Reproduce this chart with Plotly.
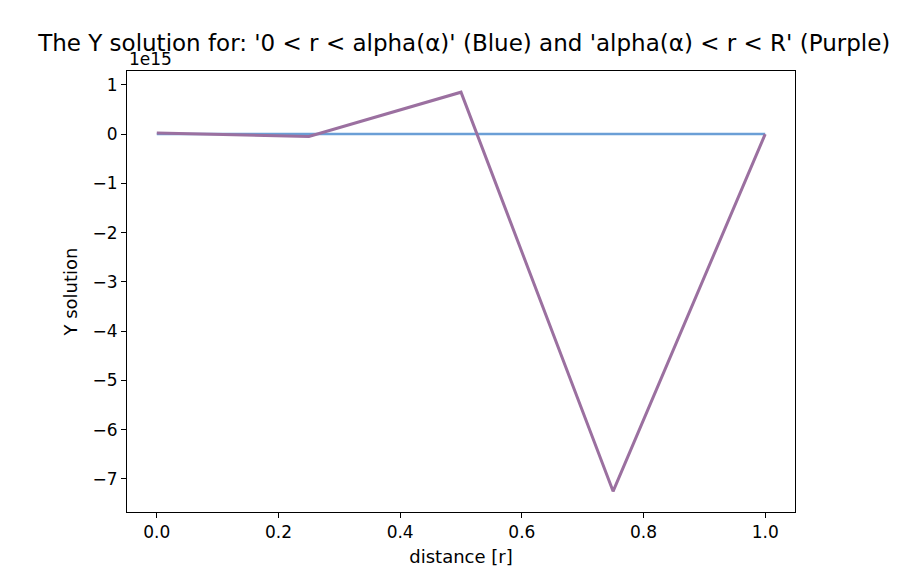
import plotly.graph_objects as go

r = [0.0, 0.25, 0.5, 0.75, 1.0]
y_blue = [0.0, 0.0, 0.0, 0.0, 0.0]
y_purple = [0.02e15, -0.05e15, 0.85e15, -7.25e15, 0.0]
ytick_vals = [1, 0, -1, -2, -3, -4, -5, -6, -7]
xtick_vals = [0.0, 0.2, 0.4, 0.6, 0.8, 1.0]

F = "DejaVu Sans"
fig = go.Figure()
fig.add_trace(go.Scatter(x=r, y=y_blue, mode="lines", line=dict(color="#6b9fd6", width=2.5)))
fig.add_trace(go.Scatter(x=r, y=y_purple, mode="lines", line=dict(color="#9b70a0", width=3)))

ax = dict(showline=True, linecolor="black", linewidth=1, mirror=True, ticks="outside",
          ticklen=5, tickcolor="black", showgrid=False, zeroline=False,
          tickfont=dict(family=F, size=17, color="black"))
fig.update_layout(
    width=918, height=588, plot_bgcolor="white", paper_bgcolor="white", showlegend=False,
    margin=dict(l=119, r=131, t=63, b=84),
    title=dict(text="The Y solution for: '0 < r < alpha(α)' (Blue) and 'alpha(α) < r < R' (Purple)",
               x=0.497, xanchor="center", y=0.955, font=dict(family=F, size=23, color="black")),
    xaxis=dict(ax, range=[-0.049, 1.049], tickvals=xtick_vals,
               ticktext=[f"{v:.1f}" for v in xtick_vals],
               title=dict(text="distance [r]", font=dict(family=F, size=18, color="black"), standoff=8)),
    yaxis=dict(ax, range=[-7.67e15, 1.28e15], tickvals=[v * 1e15 for v in ytick_vals],
               ticktext=[str(v).replace("-", "−") for v in ytick_vals],
               title=dict(text="Y solution", font=dict(family=F, size=18, color="black"), standoff=10)),
    annotations=[dict(text="1e15", xref="paper", yref="paper", x=0, y=1, xanchor="left", yanchor="bottom",
                      showarrow=False, font=dict(family=F, size=17, color="black"))],
)
fig.write_html("out.html")
